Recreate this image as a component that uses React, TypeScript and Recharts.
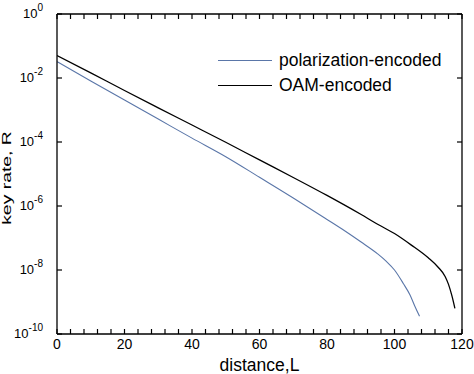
import { LineChart, Line, XAxis, YAxis, Legend, Label } from "recharts";

// distance L vs key rate R (log y axis)
const polDistance = [0, 10, 20, 30, 40, 50, 60, 70, 80, 85, 90, 95, 97.5, 100, 102.6, 104.6, 106.1, 107.4];
const polRate = [
  3.24e-2, 8.1e-3, 2.04e-3, 5.2e-4, 1.32e-4, 3.47e-5, 7.9e-6, 1.78e-6, 3.8e-7, 1.74e-7, 7.6e-8,
  3.2e-8, 1.9e-8, 1.0e-8, 3.8e-9, 1.66e-9, 7.1e-10, 3.6e-10,
];
const oamDistance = [0, 10, 20, 30, 40, 50, 60, 70, 80, 90, 95, 100, 105, 110, 113, 115, 116, 117, 117.9];
const oamRate = [
  5.01e-2, 1.45e-2, 4.07e-3, 1.17e-3, 3.39e-4, 9.8e-5, 2.75e-5, 7.8e-6, 2.14e-6, 5.5e-7, 2.69e-7,
  1.38e-7, 6.0e-8, 2.4e-8, 1.2e-8, 6.3e-9, 3.55e-9, 1.58e-9, 6.3e-10,
];
const seriesNames = ["polarization-encoded", "OAM-encoded"];

const xLabels = [0, 20, 40, 60, 80, 100, 120];
const xTicks = [
  0, 4, 8, 12, 16, 20, 24, 28, 32, 36, 40, 44, 48, 52, 56, 60, 64, 68, 72, 76, 80, 84, 88,
  92, 96, 100, 104, 108, 112, 116, 120,
];
const yTicks = [1, 1e-2, 1e-4, 1e-6, 1e-8, 1e-10];

const FONT = "'Liberation Sans', Arial, sans-serif";
const BLUE = "#5a76a8";
const TICK = 5;
const TICK_COLOR = "#000";

const polData = polDistance.map((L, i) => ({ L, R: polRate[i] }));
const oamData = oamDistance.map((L, i) => ({ L, R: oamRate[i] }));

// MATLAB-style ticks pointing into the plot box
function BottomTick(props: any) {
  const { x, y, payload } = props;
  return (
    <g>
      <line x1={x} y1={y} x2={x} y2={y - TICK} stroke={TICK_COLOR} strokeWidth={1.2} />
      {xLabels.includes(payload.value) && (
        <text x={x} y={y + 15} textAnchor="middle" fontSize={14} fontFamily={FONT} fill="#000">
          {payload.value}
        </text>
      )}
    </g>
  );
}

function TopTick(props: any) {
  const { x, y } = props;
  return <line x1={x} y1={y} x2={x} y2={y + TICK} stroke={TICK_COLOR} strokeWidth={1.2} />;
}

function LeftTick(props: any) {
  const { x, y, payload } = props;
  const exp = Math.round(Math.log10(payload.value));
  return (
    <g>
      <line x1={x} y1={y} x2={x + TICK} y2={y} stroke={TICK_COLOR} strokeWidth={1.2} />
      <text x={x - 14} y={y + 4} textAnchor="end" fontFamily={FONT} fill="#000" fontSize={13}>
        10
        <tspan dy={-7} fontSize={10}>
          {exp}
        </tspan>
      </text>
    </g>
  );
}

function RightTick(props: any) {
  const { x, y } = props;
  return <line x1={x} y1={y} x2={x - TICK} y2={y} stroke={TICK_COLOR} strokeWidth={1.2} />;
}

function LegendBox(props: any) {
  const items = [...(props.payload || [])].sort(
    (a: any, b: any) => seriesNames.indexOf(a.value) - seriesNames.indexOf(b.value)
  );
  return (
    <div style={{ fontFamily: FONT, fontSize: 17.5, color: "#000" }}>
      {items.map((p: any) => (
        <div key={p.value} style={{ display: "flex", alignItems: "center", height: 25 }}>
          <div style={{ width: 54, height: 0, borderTop: `1px solid ${p.color}`, marginRight: 7 }} />
          <span>{p.value}</span>
        </div>
      ))}
    </div>
  );
}

const axisLine = { stroke: "#000", strokeWidth: 1.3 };

export default function App() {
  return (
    <div style={{ position: "absolute", left: 0, top: 0, width: 474, height: 374, background: "#fff" }}>
      <LineChart width={474} height={374} margin={{ top: 0, right: 0, bottom: 0, left: 0 }}>
        <XAxis
          dataKey="L"
          type="number"
          domain={[0, 120]}
          ticks={xTicks}
          interval={0}
          height={40}
          tickSize={0}
          tickMargin={0}
          tick={<BottomTick />}
          tickLine={false}
          axisLine={axisLine}
          allowDataOverflow
        >
          <Label
            content={(p: any) => (
              <text
                x={p.viewBox.x + p.viewBox.width / 2}
                y={371}
                textAnchor="middle"
                fontSize={17.5}
                fontFamily={FONT}
                fill="#000"
              >
                distance,L
              </text>
            )}
          />
        </XAxis>
        <XAxis
          xAxisId="top"
          orientation="top"
          dataKey="L"
          type="number"
          domain={[0, 120]}
          ticks={xTicks}
          interval={0}
          height={14}
          tickSize={0}
          tickMargin={0}
          tick={<TopTick />}
          tickLine={false}
          axisLine={axisLine}
          allowDataOverflow
        />
        <YAxis
          type="number"
          scale="log"
          domain={[1e-10, 1]}
          ticks={yTicks}
          interval={0}
          width={57}
          tickSize={0}
          tickMargin={0}
          tick={<LeftTick />}
          tickLine={false}
          axisLine={axisLine}
          allowDataOverflow
        >
          <Label
            content={(p: any) => {
              const cy = p.viewBox.y + p.viewBox.height / 2 + 4;
              return (
                <text
                  transform={`translate(11, ${cy}) rotate(-90) scale(1.55, 1)`}
                  textAnchor="middle"
                  fontSize={12.5}
                  fontFamily={FONT}
                  fill="#000"
                >
                  key rate, R
                </text>
              );
            }}
          />
        </YAxis>
        <YAxis
          yAxisId="right"
          orientation="right"
          type="number"
          scale="log"
          domain={[1e-10, 1]}
          ticks={yTicks}
          interval={0}
          width={12}
          tickSize={0}
          tickMargin={0}
          tick={<RightTick />}
          tickLine={false}
          axisLine={axisLine}
          allowDataOverflow
        />
        <Legend
          layout="vertical"
          align="center"
          verticalAlign="middle"
          content={<LegendBox />}
          wrapperStyle={{ left: 218, top: 48, width: 240 }}
        />
        <Line
          data={polData}
          dataKey="R"
          name={seriesNames[0]}
          type="monotone"
          stroke={BLUE}
          strokeWidth={1.1}
          dot={false}
          isAnimationActive={false}
        />
        <Line
          data={oamData}
          dataKey="R"
          name={seriesNames[1]}
          type="monotone"
          stroke="#000"
          strokeWidth={1.3}
          dot={false}
          isAnimationActive={false}
        />
      </LineChart>
    </div>
  );
}
